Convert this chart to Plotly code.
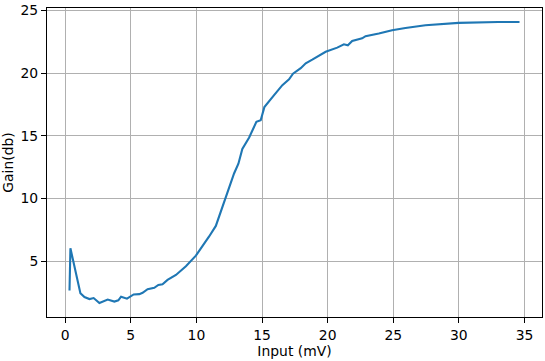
import plotly.graph_objects as go

input_mv = [0.33, 0.4, 1.16, 1.47, 1.85, 2.17, 2.61, 3.24, 3.75, 4.05, 4.26, 4.71,
            5.22, 5.65, 5.9, 6.28, 6.79, 7.1, 7.42, 7.8, 8.44, 9.2, 9.96, 10.34,
            10.97, 11.48, 11.86, 12.24, 12.62, 12.87, 13.2, 13.5, 14.02, 14.57,
            14.9, 15.18, 15.92, 16.55, 17.06, 17.36, 17.95, 18.33, 18.83, 19.85,
            20.73, 21.24, 21.54, 21.87, 22.63, 22.89, 23.9, 24.91, 25.93, 27.45,
            29.98, 31.25, 33.0, 34.62]
gain_db = [2.67, 6.04, 2.46, 2.15, 1.99, 2.07, 1.68, 1.95, 1.79, 1.89, 2.18, 2.02,
           2.36, 2.38, 2.49, 2.78, 2.89, 3.12, 3.17, 3.52, 3.91, 4.61, 5.45, 5.99,
           6.98, 7.82, 8.99, 9.98, 11.3, 12.0, 12.78, 13.95, 14.87, 16.12,
           16.25, 17.29, 18.25, 19.04, 19.5, 19.95, 20.39, 20.78, 21.07, 21.7,
           22.03, 22.3, 22.22, 22.56, 22.77, 22.94, 23.16, 23.42, 23.6, 23.82,
           24.0, 24.05, 24.07, 24.07]
x_ticks = [0, 5, 10, 15, 20, 25, 30, 35]
y_ticks = [5, 10, 15, 20, 25]

def padded(vals, frac=0.05):
    lo, hi = min(vals), max(vals)
    d = (hi - lo) * frac
    return [lo - d, hi + d]

fig = go.Figure(go.Scatter(x=input_mv, y=gain_db, mode="lines",
                           line=dict(color="#1f77b4", width=2.1)))

axis_common = dict(showline=True, linecolor="black", linewidth=1, mirror=True,
                   ticks="outside", ticklen=5, tickcolor="black", tickwidth=1,
                   showgrid=True, gridcolor="#b0b0b0", gridwidth=1.1, zeroline=False,
                   ticklabeloverflow="allow",
                   tickfont=dict(family="DejaVu Sans", size=13.9, color="black"))

fig.update_layout(
    width=545, height=361,
    margin=dict(l=47, r=2, t=2, b=44),
    plot_bgcolor="white", paper_bgcolor="white",
    showlegend=False,
    font=dict(family="DejaVu Sans", size=13.9, color="black"),
    xaxis=dict(range=padded(input_mv), tickvals=x_ticks,
               title=dict(text="Input (mV)", standoff=3, font=dict(size=13.9)),
               **axis_common),
    yaxis=dict(range=padded(gain_db), tickvals=y_ticks,
               title=dict(text="Gain(db)", standoff=4, font=dict(size=13.9)),
               **axis_common),
)

fig.write_html("out.html")
